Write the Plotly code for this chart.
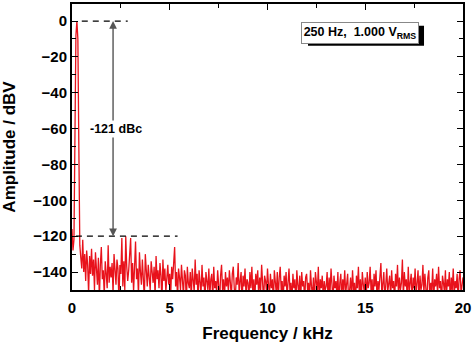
import numpy as np
import plotly.graph_objects as go

# FFT spectrum of a 250 Hz, 1.000 Vrms tone, 50 Hz bins, 0-20 kHz (dBV)
bin_width_khz = 0.05
amp_0k = [-116, -128, -122, -60, -8, 0, -10, -70, -125, -132, -138, -122, -140, -130, -145, -128, -136, -152, -131, -141]
amp_1k = [-127, -142, -133, -150, -129, -138, -147, -132, -155, -136, -126, -144, -139, -153, -134, -141, -149, -125, -146, -137]
amp_2k = [-143, -135, -152, -130, -140, -147, -133, -138, -156, -136, -141, -121, -148, -134, -150, -120, -137, -145, -139, -131]
amp_3k = [-121, -146, -135, -151, -132, -123, -144, -138, -153, -129, -140, -147, -133, -142, -155, -130, -139, -148, -136, -143]
amp_4k = [-150, -134, -141, -146, -137, -154, -131, -144, -139, -149, -135, -142, -157, -133, -145, -138, -151, -140, -136, -147]
amp_5k = [-141, -152, -137, -144, -134, -126, -148, -140, -155, -138, -143, -150, -136, -145, -153, -139, -142, -158, -137, -146]
amp_6k = [-149, -140, -155, -138, -144, -151, -133, -147, -141, -156, -139, -145, -152, -136, -148, -143, -157, -140, -146, -150]
amp_7k = [-138, -153, -144, -141, -156, -137, -149, -145, -152, -139, -147, -158, -142, -136, -150, -144, -155, -140, -148, -143]
amp_8k = [-151, -139, -146, -154, -141, -137, -149, -156, -143, -147, -135, -152, -145, -140, -158, -142, -148, -138, -153, -144]
amp_9k = [-146, -155, -140, -149, -137, -152, -144, -157, -141, -147, -139, -154, -143, -150, -136, -148, -156, -142, -145, -151]
amp_10k = [-138, -147, -153, -141, -149, -144, -158, -139, -146, -152, -140, -155, -143, -137, -150, -145, -157, -142, -148, -140]
amp_11k = [-154, -143, -138, -151, -146, -156, -141, -149, -144, -159, -139, -147, -152, -142, -155, -140, -148, -145, -157, -143]
amp_12k = [-141, -150, -146, -155, -139, -148, -153, -143, -158, -140, -147, -151, -137, -156, -144, -149, -142, -154, -145, -150]
amp_13k = [-148, -140, -156, -143, -151, -138, -147, -157, -142, -149, -145, -153, -140, -158, -146, -141, -155, -144, -150, -139]
amp_14k = [-152, -145, -141, -157, -148, -143, -154, -139, -150, -146, -158, -142, -149, -137, -153, -144, -156, -140, -147, -151]
amp_15k = [-143, -155, -140, -149, -146, -137, -152, -144, -158, -141, -148, -139, -154, -145, -150, -142, -135, -153, -147, -140]
amp_16k = [-156, -144, -138, -151, -147, -142, -155, -139, -149, -145, -157, -141, -148, -136, -153, -143, -150, -146, -133, -154]
amp_17k = [-140, -148, -144, -156, -137, -151, -146, -141, -157, -143, -149, -138, -153, -145, -139, -155, -142, -150, -147, -136]
amp_18k = [-152, -141, -147, -157, -143, -139, -154, -146, -150, -138, -156, -144, -148, -141, -153, -137, -149, -145, -158, -142]
amp_19k = [-146, -151, -139, -155, -144, -148, -140, -157, -143, -150, -138, -153, -145, -149, -141, -156, -144, -139, -152, -147]
amp_20k = [-143]

amplitude_dbv = (amp_0k + amp_1k + amp_2k + amp_3k + amp_4k + amp_5k + amp_6k + amp_7k
                 + amp_8k + amp_9k + amp_10k + amp_11k + amp_12k + amp_13k + amp_14k
                 + amp_15k + amp_16k + amp_17k + amp_18k + amp_19k + amp_20k)
freq_khz = np.arange(len(amplitude_dbv)) * bin_width_khz

# reference levels for the carrier-to-spur span
carrier_level = 0
spur_level = -120
arrow_x = 2.1
span_label = "-121 dBc"
tone_label = "250 Hz,  1.000 V<sub>RMS</sub>"

FONT = "Liberation Sans, Arial, Helvetica, sans-serif"

fig = go.Figure()
fig.add_trace(go.Scatter(
    x=freq_khz, y=amplitude_dbv, mode="lines",
    line=dict(color="#e8121b", width=1.3), hoverinfo="skip", showlegend=False,
))

# dashed reference lines
fig.add_trace(go.Scatter(x=[0.5, 2.85], y=[carrier_level, carrier_level], mode="lines",
                         line=dict(color="black", width=1.3, dash="6px,5px"), showlegend=False))
fig.add_trace(go.Scatter(x=[0.2, 5.4], y=[spur_level, spur_level], mode="lines",
                         line=dict(color="black", width=1.3, dash="6px,5px"), showlegend=False))

mid = (carrier_level + spur_level) / 2
arrow_style = dict(showarrow=True, arrowhead=2, arrowsize=1.1, arrowwidth=1.4,
                   arrowcolor="#555555", text="", axref="x", ayref="y", standoff=0)
fig.add_annotation(x=arrow_x, y=carrier_level, ax=arrow_x, ay=mid, **arrow_style)
fig.add_annotation(x=arrow_x, y=spur_level, ax=arrow_x, ay=mid, **arrow_style)
fig.add_annotation(x=arrow_x, y=mid, text=span_label, showarrow=False, bgcolor="white",
                   xshift=3, font=dict(family=FONT, size=12.5, color="black", weight="bold"))

# legend-style box with a solid drop shadow behind it
fig.add_shape(type="rect", xref="paper", yref="paper",
              x0=0.6036, x1=0.9003, y0=0.854, y1=0.9236,
              fillcolor="black", line=dict(width=0), layer="above")
fig.add_annotation(x=0.737, y=0.898, xref="paper", yref="paper", width=114, height=18,
                   showarrow=False, xanchor="center", yanchor="middle",
                   text=tone_label, bgcolor="white", bordercolor="#888888", borderwidth=1,
                   font=dict(family=FONT, size=12.5, color="black", weight="bold"))

axis_common = dict(
    showline=True, linecolor="black", linewidth=2, mirror="allticks",
    ticks="inside", ticklen=6, tickwidth=1.3, tickcolor="black",
    showgrid=False, zeroline=False,
    tickfont=dict(family=FONT, size=15, color="black", weight="bold"),
)
fig.update_xaxes(range=[0, 20], tickvals=[0, 5, 10, 15, 20], ticklabelstandoff=3,
                 minor=dict(tickvals=[2.5, 7.5, 12.5, 17.5], ticks="inside", ticklen=4,
                            tickwidth=1.2, tickcolor="black"),
                 title=dict(text="Frequency / kHz", standoff=13,
                            font=dict(family=FONT, size=17, color="black", weight="bold")),
                 **axis_common)
fig.update_yaxes(range=[-150, 9.5], tickvals=[0, -20, -40, -60, -80, -100, -120, -140],
                 minor=dict(dtick=10, ticks="inside", ticklen=4, tickwidth=1.2, tickcolor="black"),
                 title=dict(text="Amplitude / dBV", standoff=14,
                            font=dict(family=FONT, size=17, color="black", weight="bold")),
                 **axis_common)

fig.update_layout(
    width=474, height=343,
    margin=dict(l=72, r=11, t=2, b=52),
    plot_bgcolor="white", paper_bgcolor="white",
    font=dict(family=FONT, color="black"),
)

fig.write_html("out.html")
